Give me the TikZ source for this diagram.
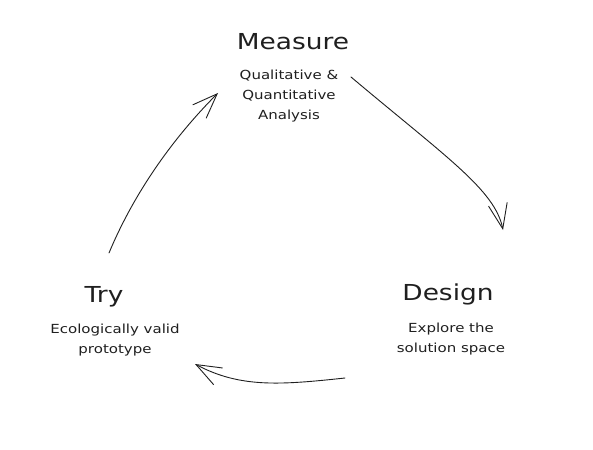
\documentclass[tikz,border=0pt]{standalone}
\usepackage{fontspec}
\setmainfont[FakeStretch=1.2]{DejaVu Sans}
\usetikzlibrary{arrows.meta,calc}
\begin{document}
\begin{tikzpicture}[x=1pt,y=-1pt,
  title/.style={font=\fontsize{22}{26}\selectfont, inner sep=0pt, text=black!88},
  desc/.style={font=\fontsize{12.5}{20}\selectfont, align=center, inner sep=0pt, text=black!88},
  flow/.style={draw=black!88, line width=0.9pt, line cap=round,
    -{Straight Barb[length=25pt,width=19pt,line width=0.9pt]}}]
\useasboundingbox[fill=white] (0,0) rectangle (593,449);
\node[title] (mt) at (293,42) {Measure};
\node[desc] (md) at (289,96) {Qualitative \&\\Quantitative\\Analysis};
\node[title] (dt) at (448,294) {Design};
\node[desc] (dd) at (451,339) {Explore the\\solution space};
\node[title] (tt) at (104,297) {Try};
\node[desc] (td) at (115,340) {Ecologically valid\\prototype};
% Measure -> Design
\draw[flow] ($(mt)+(58,35)$) .. controls +(95,80) and +(-8,-40) .. ($(dt)+(55,-64)$);
% Design -> Try
\draw[flow] ($(dt)+(-103,84)$) .. controls +(-65,7) and +(45,24) .. ($(tt)+(91,67)$);
% Try -> Measure
\draw[flow] ($(tt)+(5,-44)$) .. controls +(25,-60) and +(-45,45) .. ($(mt)+(-75,51)$);
\end{tikzpicture}
\end{document}
